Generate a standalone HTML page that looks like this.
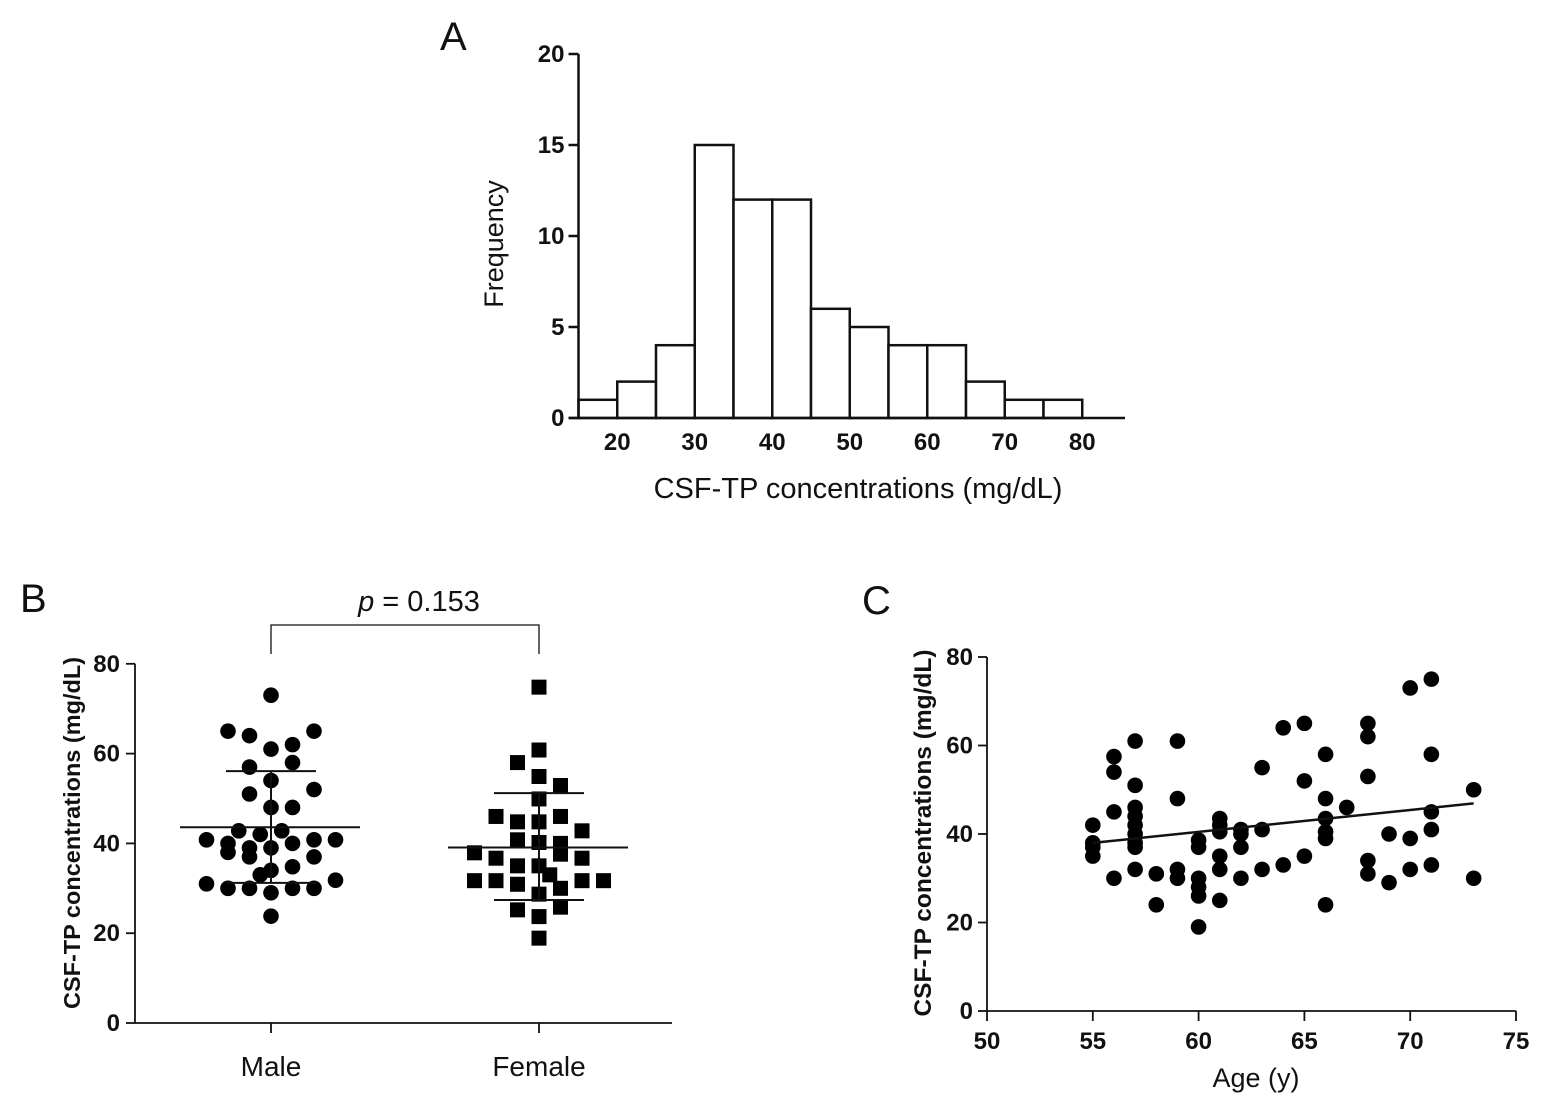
<!DOCTYPE html>
<html><head><meta charset="utf-8"><style>
body{margin:0;background:#fff;}
svg{display:block;font-family:"Liberation Sans",Arial,sans-serif;}
.tk{font-weight:bold;font-size:24px;fill:#111;}
</style></head><body>
<svg id="fig" width="1550" height="1108" viewBox="0 0 1550 1108" xmlns="http://www.w3.org/2000/svg">
<text x="440" y="50" font-size="40" fill="#111">A</text>
<text x="20" y="612" font-size="40" fill="#111">B</text>
<text x="862" y="614" font-size="40" fill="#111">C</text>
<g id="ga"></g>
<g id="gb"></g>
<g id="gc"></g>
</svg>
<script>
// Panel A data
const histBinStarts=[15,20,25,30,35,40,45,50,55,60,65,70,75];
const histCounts=[1,2,4,15,12,12,6,5,4,4,2,1,1];
const histXTicks=[20,30,40,50,60,70,80];
const histYTicks=[0,5,10,15,20];
// Panel B data
const maleValues=[73,65,64,65,61,62,57,58,54,51,52,48,48,42.8,42,42.8,40.8,40,39,39,40,40.8,40.8,38,37,37,34.8,34,33,31,30,30,29,30,30,31.8,23.8];
const maleCols=[0,-2,-1,2,0,1,-1,1,0,-1,2,0,1,-1.5,-0.5,0.5,-3,-2,-1,0,1,2,3,-2,-1,2,1,0,-0.5,-3,-2,-1,0,1,2,3,0];
const femaleValues=[74.8,60.8,58,54.9,52.9,49.9,46,44.8,44.8,46,42.8,40.8,40.2,40,37.9,36.7,37.6,36.7,35,35,33,31.7,31.7,30.9,30,31.7,31.7,28.7,25.2,25.8,23.7,18.9];
const femaleCols=[0,0,-1,0,1,0,-2,-1,0,1,2,-1,0,1,-3,-2,1,2,-1,0,0.5,-3,-2,-1,1,2,3,0,-1,1,0,0];
const groupStats=[[43.6,56.1,31.2],[39.1,51.2,27.4]];
const bYTicks=[0,20,40,60,80];
const groupNames=["Male","Female"];
// Panel C data
const ages=[55,55,55,55,56,56,56,56,57,57,57,57,57,57,57,57,57,58,58,59,59,59,59,60,60,60,60,60,60,61,61,61,61,61,61,62,62,62,62,63,63,63,64,64,65,65,65,66,66,66,66,66,66,67,68,68,68,68,68,69,69,70,70,70,71,71,71,71,71,73,73];
const csfValues=[42,38,37,35,57.5,54,45,30,61,51,46,44,42,40,38,37,32,31,24,61,48,32,30,38.6,37,30,28,26,19,43.5,42,40.5,35,32,25,41,40,37,30,55,41,32,64,33,65,52,35,58,48,43.5,40.5,39,24,46,65,62,53,34,31,40,29,73,39,32,75,58,45,41,33,50,30];
const cXTicks=[50,55,60,65,70,75];
const cYTicks=[0,20,40,60,80];

const NS="http://www.w3.org/2000/svg";
function mk(parent,tag,attrs){const e=document.createElementNS(NS,tag);for(const k in attrs)e.setAttribute(k,attrs[k]);parent.appendChild(e);return e;}
function txt(parent,x,y,s,attrs){const e=mk(parent,'text',Object.assign({x:x,y:y},attrs));e.textContent=s;return e;}

// ---- Panel A
const ga=document.getElementById('ga');
const ax=v=>578.5+(v-15)*7.75, ay=v=>418-v*18.2;
histBinStarts.forEach((b,i)=>{
 const r=mk(ga,'rect',{x:ax(b),y:ay(histCounts[i]),width:ax(b+5)-ax(b),height:ay(0)-ay(histCounts[i]),fill:'#fff',stroke:'#111','stroke-width':2.5});
 
 
});
let l=mk(ga,'line',{x1:ax(15),y1:ay(0),x2:ax(15),y2:ay(20),stroke:'#111','stroke-width':2.5});

l=mk(ga,'line',{x1:ax(15)-10,y1:ay(0),x2:1125,y2:ay(0),stroke:'#111','stroke-width':2.5});

histYTicks.forEach(t=>{mk(ga,'line',{x1:ax(15)-10,y1:ay(t),x2:ax(15),y2:ay(t),stroke:'#111','stroke-width':2.5});
 const e=txt(ga,ax(15)-14,ay(t)+8,t,{'class':'tk','text-anchor':'end'});
 });
histXTicks.forEach(t=>{const e=txt(ga,ax(t),450,t,{'class':'tk','text-anchor':'middle'});
 });
let e=txt(ga,0,0,'Frequency',{'font-size':27,fill:'#111','text-anchor':'middle',transform:'translate(503,244) rotate(-90)'});

e=txt(ga,858,498,'CSF-TP concentrations (mg/dL)',{'font-size':29,fill:'#111','text-anchor':'middle'});


// ---- Panel B
const gb=document.getElementById('gb');
const by=v=>1023-v*4.49, gx=[271,539], colW=21.5;
l=mk(gb,'line',{x1:135,y1:by(0),x2:135,y2:by(80),stroke:'#111','stroke-width':1.8});

l=mk(gb,'line',{x1:135,y1:by(0),x2:672,y2:by(0),stroke:'#111','stroke-width':1.8});

bYTicks.forEach(t=>{mk(gb,'line',{x1:126,y1:by(t),x2:135,y2:by(t),stroke:'#111','stroke-width':1.8});
 const e=txt(gb,120,by(t)+8,t,{'class':'tk','text-anchor':'end'});
 });
groupNames.forEach((g,i)=>{mk(gb,'line',{x1:gx[i],y1:by(0),x2:gx[i],y2:by(0)+10,stroke:'#111','stroke-width':1.8});
 const e=txt(gb,gx[i],1076,g,{'font-size':28,fill:'#111','text-anchor':'middle'});
 });
e=txt(gb,0,0,'CSF-TP concentrations (mg/dL)',{'font-size':23.5,'font-weight':'bold',fill:'#111','text-anchor':'middle',transform:'translate(80,833) rotate(-90)'});

maleValues.forEach((v,i)=>{const c=mk(gb,'circle',{cx:gx[0]+maleCols[i]*colW,cy:by(v),r:7.8,fill:'#000'});
 });
femaleValues.forEach((v,i)=>{const c=mk(gb,'rect',{x:gx[1]+femaleCols[i]*colW-7.5,y:by(v)-7.5,width:15,height:15,fill:'#000'});
 });
groupStats.forEach((s,i)=>{const x=gx[i];
 let m=mk(gb,'line',{x1:x-91,y1:by(s[0]),x2:x+89,y2:by(s[0]),stroke:'#111','stroke-width':2});
 
 mk(gb,'line',{x1:x-45,y1:by(s[1]),x2:x+45,y2:by(s[1]),stroke:'#111','stroke-width':2});
 mk(gb,'line',{x1:x-45,y1:by(s[2]),x2:x+45,y2:by(s[2]),stroke:'#111','stroke-width':2});
 mk(gb,'line',{x1:x,y1:by(s[1]),x2:x,y2:by(s[2]),stroke:'#111','stroke-width':2});});
l=mk(gb,'polyline',{points:'271,654 271,625 539,625 539,654',fill:'none',stroke:'#111','stroke-width':1.3});

e=mk(gb,'text',{x:419,y:611,'font-size':29,fill:'#111','text-anchor':'middle'});
e.innerHTML='<tspan font-style="italic">p</tspan> = 0.153';


// ---- Panel C
const gc=document.getElementById('gc');
const cx=v=>987+(v-50)*21.16, cy=v=>1011-v*4.425;
l=mk(gc,'line',{x1:987,y1:cy(0),x2:987,y2:cy(80),stroke:'#111','stroke-width':1.8});

l=mk(gc,'line',{x1:987,y1:cy(0),x2:cx(75),y2:cy(0),stroke:'#111','stroke-width':1.8});

cYTicks.forEach(t=>{mk(gc,'line',{x1:978,y1:cy(t),x2:987,y2:cy(t),stroke:'#111','stroke-width':1.8});
 const e=txt(gc,973,cy(t)+8,t,{'class':'tk','text-anchor':'end'});
 });
cXTicks.forEach(t=>{mk(gc,'line',{x1:cx(t),y1:cy(0),x2:cx(t),y2:cy(0)+10,stroke:'#111','stroke-width':1.8});
 const e=txt(gc,cx(t),1049,t,{'class':'tk','text-anchor':'middle'});
 });
e=txt(gc,0,0,'CSF-TP concentrations (mg/dL)',{'font-size':24.5,'font-weight':'bold',fill:'#111','text-anchor':'middle',transform:'translate(931,833) rotate(-90)'});

e=txt(gc,1256,1087,'Age (y)',{'font-size':27,fill:'#111','text-anchor':'middle'});

ages.forEach((a,i)=>{const c=mk(gc,'circle',{cx:cx(a),cy:cy(csfValues[i]),r:7.8,fill:'#000'});
 });
// regression from data
const n=ages.length,mx=ages.reduce((s,v)=>s+v,0)/n,my=csfValues.reduce((s,v)=>s+v,0)/n;
let sxy=0,sxx=0;ages.forEach((a,i)=>{sxy+=(a-mx)*(csfValues[i]-my);sxx+=(a-mx)**2;});
const slope=sxy/sxx,icp=my-slope*mx;
l=mk(gc,'line',{x1:cx(55),y1:cy(icp+slope*55),x2:cx(73),y2:cy(icp+slope*73),stroke:'#111','stroke-width':2.5});

</script>
</body></html>
